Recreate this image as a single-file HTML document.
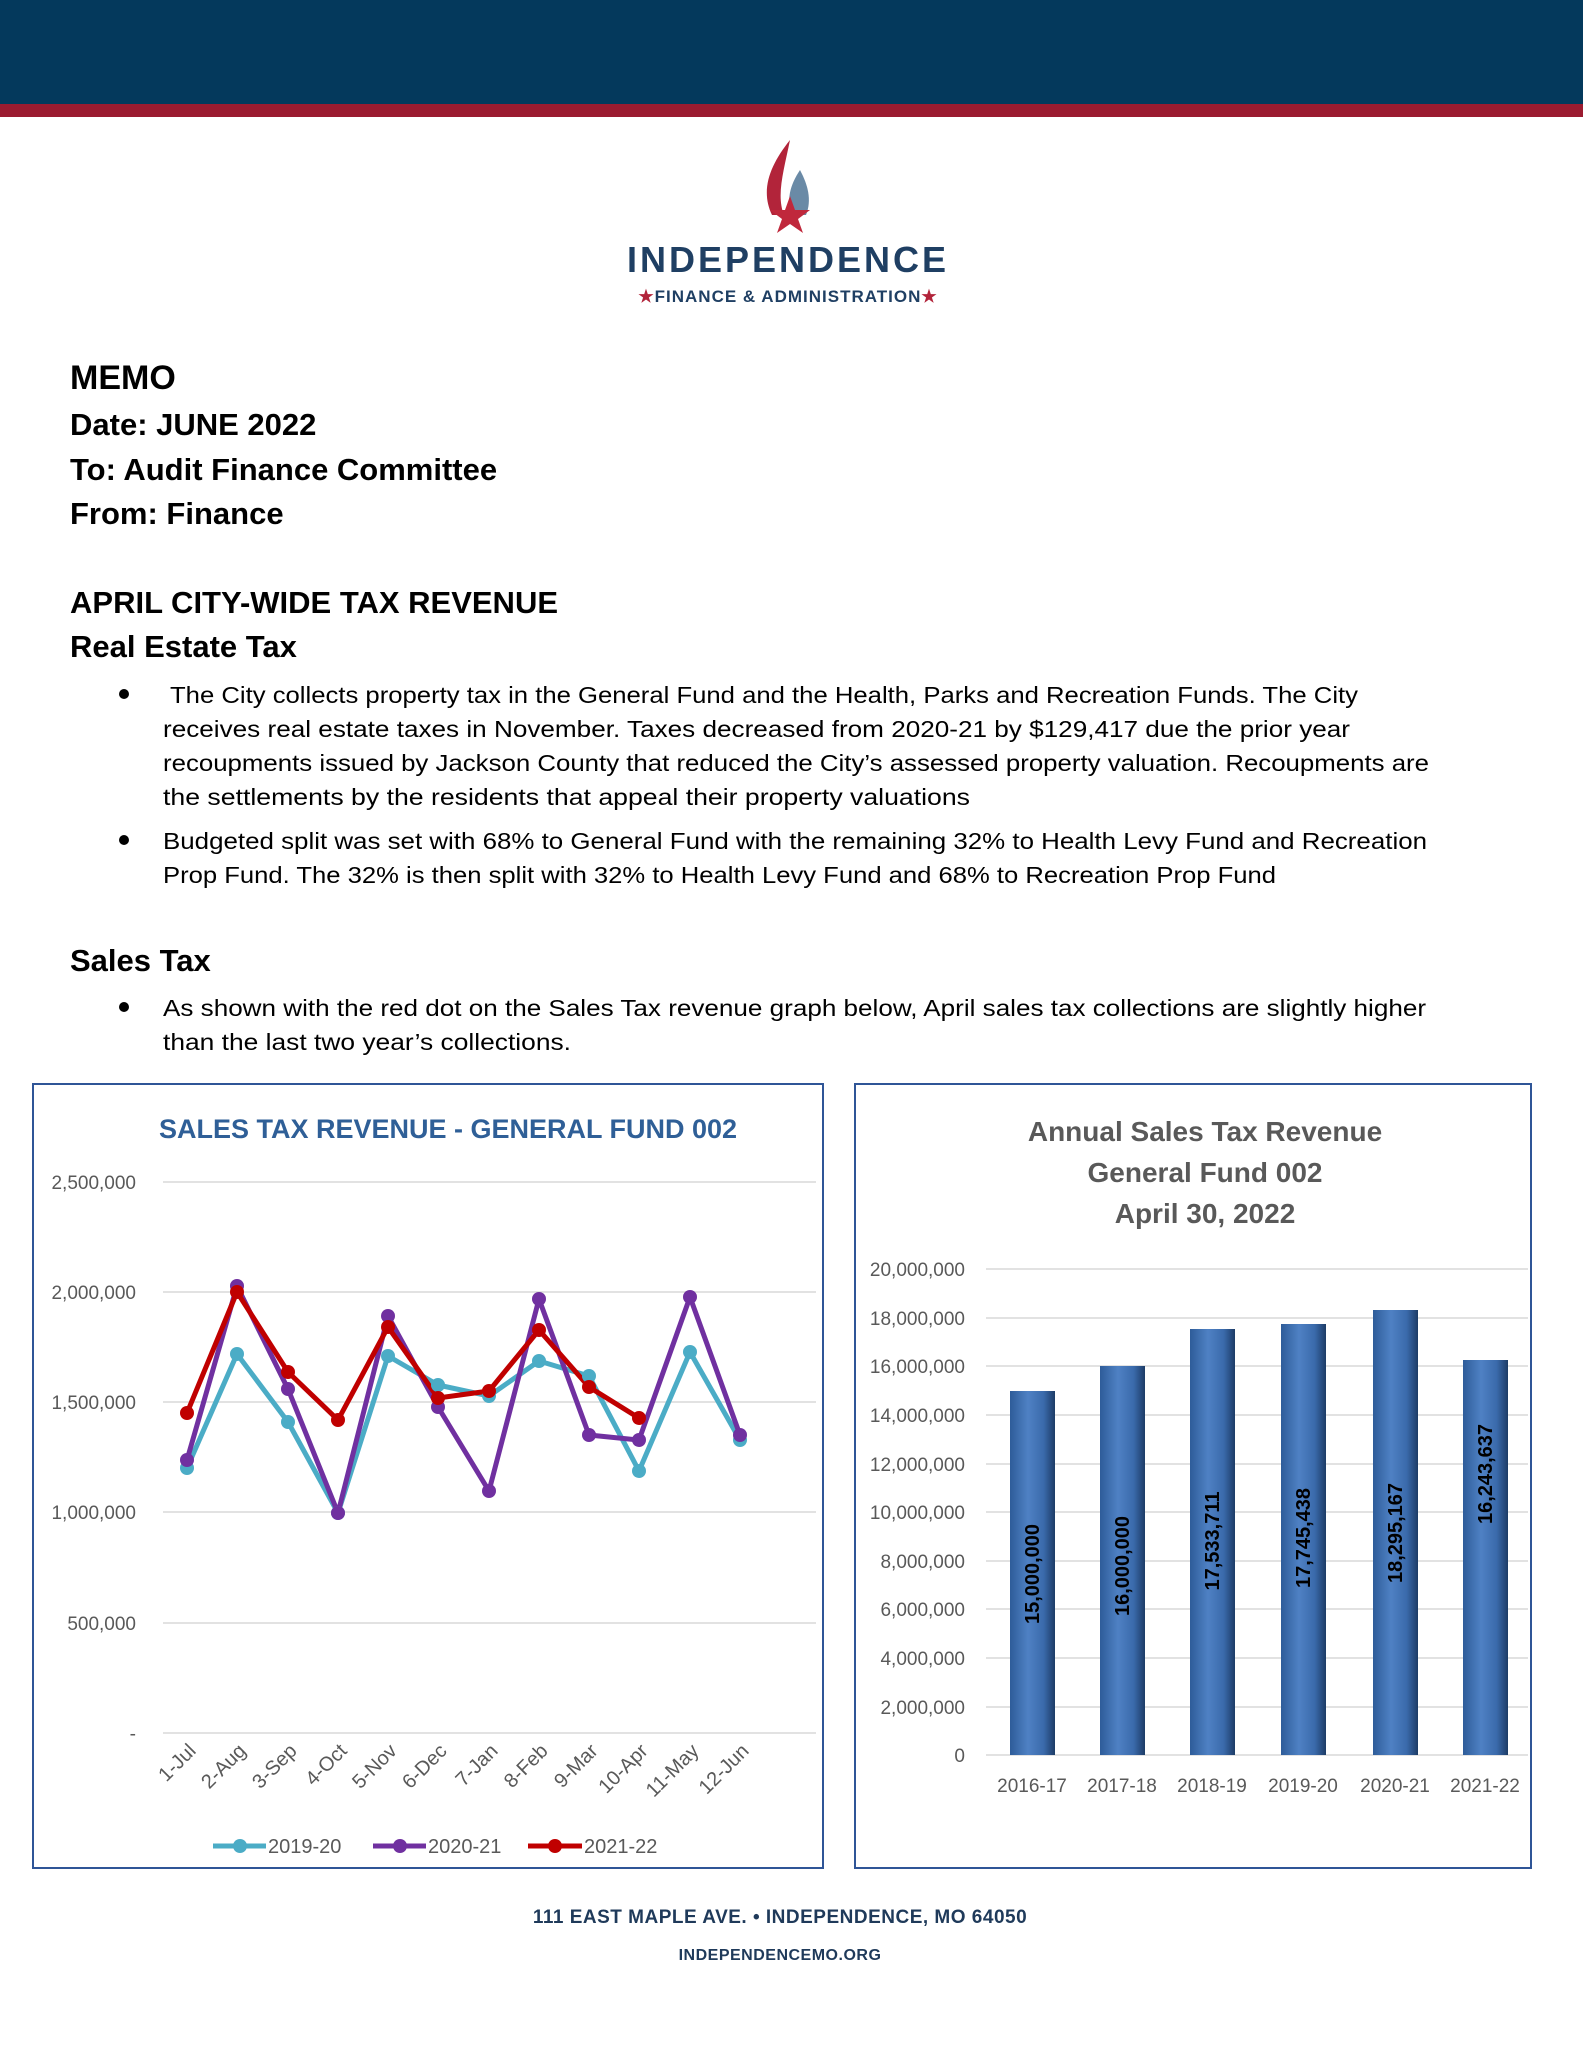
<!DOCTYPE html>
<html><head><meta charset="utf-8"><style>html,body{margin:0;padding:0;background:#fff}svg{display:block}</style></head>
<body>
<svg width="1583" height="2048" viewBox="0 0 1583 2048" xmlns="http://www.w3.org/2000/svg" font-family="Liberation Sans, sans-serif">
<rect x="0" y="0" width="1583" height="105" fill="#04395c"/>
<rect x="0" y="104" width="1583" height="13" fill="#9b1b30"/>
<!-- logo -->
<path d="M790 140 C770 165 760 190 772 215 L784 215 C776 195 784 170 790 140Z" fill="#b2243a"/>
<path d="M800 170 C790 185 786 200 792 215 L806 215 C812 200 808 185 800 170Z" fill="#6a8aa6"/>
<polygon points="790,196 795,210 810,210 798,219 803,233 790,224 777,233 782,219 770,210 785,210" fill="#c0283c"/>
<text x="788" y="272" font-size="36" font-weight="bold" fill="#1f3f63" text-anchor="middle" letter-spacing="3">INDEPENDENCE</text>
<text x="788" y="302" font-size="17" font-weight="bold" fill="#1f3f63" text-anchor="middle" letter-spacing="1"><tspan fill="#b2243a">★</tspan>FINANCE &amp; ADMINISTRATION<tspan fill="#b2243a">★</tspan></text>
<!-- memo -->
<g font-weight="bold" fill="#000" font-size="31">
<text x="70" y="389" font-size="34">MEMO</text>
<text x="70" y="435">Date: JUNE 2022</text>
<text x="70" y="480">To: Audit Finance Committee</text>
<text x="70" y="524">From: Finance</text>
<text x="70" y="613">APRIL CITY-WIDE TAX REVENUE</text>
<text x="70" y="657">Real Estate Tax</text>
<text x="70" y="971">Sales Tax</text>
</g>
<g font-size="23" fill="#000" lengthAdjust="spacingAndGlyphs">
<circle cx="124" cy="694" r="5"/><circle cx="124" cy="840" r="5"/><circle cx="124" cy="1007" r="5"/>
<text x="170" y="703" textLength="1188" lengthAdjust="spacingAndGlyphs">The City collects property tax in the General Fund and the Health, Parks and Recreation Funds. The City</text>
<text x="163" y="737" textLength="1187" lengthAdjust="spacingAndGlyphs">receives real estate taxes in November.  Taxes decreased from 2020-21 by $129,417 due the prior year</text>
<text x="163" y="771" textLength="1266" lengthAdjust="spacingAndGlyphs">recoupments issued by Jackson County that reduced the City’s assessed property valuation. Recoupments are</text>
<text x="163" y="805" textLength="807" lengthAdjust="spacingAndGlyphs">the settlements by the residents that appeal their property valuations</text>
<text x="163" y="849" textLength="1264" lengthAdjust="spacingAndGlyphs">Budgeted split was set with 68% to General Fund with the remaining 32% to Health Levy Fund and Recreation</text>
<text x="163" y="883" textLength="1113" lengthAdjust="spacingAndGlyphs">Prop Fund. The 32% is then split with 32% to Health Levy Fund and 68% to Recreation Prop Fund</text>
<text x="163" y="1016" textLength="1263" lengthAdjust="spacingAndGlyphs">As shown with the red dot on the Sales Tax revenue graph below, April sales tax collections are slightly higher</text>
<text x="163" y="1050" textLength="408" lengthAdjust="spacingAndGlyphs">than the last two year’s collections.</text>
</g>
<!-- chart 1 -->
<rect x="33" y="1084" width="790" height="784" fill="#fff" stroke="#2f5597" stroke-width="2"/>
<text x="448" y="1138" font-size="27" font-weight="bold" fill="#2f5f97" text-anchor="middle">SALES TAX REVENUE - GENERAL FUND 002</text>
<g stroke="#d9d9d9" stroke-width="1.5">
<line x1="163" x2="816" y1="1182" y2="1182"/><line x1="163" x2="816" y1="1292" y2="1292"/><line x1="163" x2="816" y1="1402" y2="1402"/><line x1="163" x2="816" y1="1512" y2="1512"/><line x1="163" x2="816" y1="1623" y2="1623"/><line x1="163" x2="816" y1="1733" y2="1733"/>
</g>
<g font-size="19" fill="#595959" text-anchor="end">
<text x="136" y="1189">2,500,000</text><text x="136" y="1299">2,000,000</text><text x="136" y="1409">1,500,000</text><text x="136" y="1519">1,000,000</text><text x="136" y="1630">500,000</text><text x="136" y="1740">-</text>
</g>
<g font-size="20" fill="#595959" text-anchor="end">
<text transform="translate(197,1752) rotate(-45)">1-Jul</text>
<text transform="translate(247,1752) rotate(-45)">2-Aug</text>
<text transform="translate(298,1752) rotate(-45)">3-Sep</text>
<text transform="translate(348,1752) rotate(-45)">4-Oct</text>
<text transform="translate(398,1752) rotate(-45)">5-Nov</text>
<text transform="translate(448,1752) rotate(-45)">6-Dec</text>
<text transform="translate(499,1752) rotate(-45)">7-Jan</text>
<text transform="translate(549,1752) rotate(-45)">8-Feb</text>
<text transform="translate(599,1752) rotate(-45)">9-Mar</text>
<text transform="translate(649,1752) rotate(-45)">10-Apr</text>
<text transform="translate(700,1752) rotate(-45)">11-May</text>
<text transform="translate(750,1752) rotate(-45)">12-Jun</text>
</g>
<g fill="none" stroke-width="5" stroke-linejoin="round">
<polyline stroke="#4bacc6" points="187,1468 237,1354 288,1422 338,1513 388,1356 438,1385 489,1396 539,1361 589,1376 639,1471 690,1352 740,1440"/>
<polyline stroke="#7030a0" points="187,1460 237,1286 288,1389 338,1513 388,1316 438,1407 489,1491 539,1299 589,1435 639,1440 690,1297 740,1435"/>
<polyline stroke="#c00000" points="187,1413 237,1292 288,1372 338,1420 388,1327 438,1398 489,1391 539,1330 589,1387 639,1418"/>
</g>
<g fill="#4bacc6"><circle cx="187" cy="1468" r="7"/><circle cx="237" cy="1354" r="7"/><circle cx="288" cy="1422" r="7"/><circle cx="338" cy="1513" r="7"/><circle cx="388" cy="1356" r="7"/><circle cx="438" cy="1385" r="7"/><circle cx="489" cy="1396" r="7"/><circle cx="539" cy="1361" r="7"/><circle cx="589" cy="1376" r="7"/><circle cx="639" cy="1471" r="7"/><circle cx="690" cy="1352" r="7"/><circle cx="740" cy="1440" r="7"/></g>
<g fill="#7030a0"><circle cx="187" cy="1460" r="7"/><circle cx="237" cy="1286" r="7"/><circle cx="288" cy="1389" r="7"/><circle cx="338" cy="1513" r="7"/><circle cx="388" cy="1316" r="7"/><circle cx="438" cy="1407" r="7"/><circle cx="489" cy="1491" r="7"/><circle cx="539" cy="1299" r="7"/><circle cx="589" cy="1435" r="7"/><circle cx="639" cy="1440" r="7"/><circle cx="690" cy="1297" r="7"/><circle cx="740" cy="1435" r="7"/></g>
<g fill="#c00000"><circle cx="187" cy="1413" r="7"/><circle cx="237" cy="1292" r="7"/><circle cx="288" cy="1372" r="7"/><circle cx="338" cy="1420" r="7"/><circle cx="388" cy="1327" r="7"/><circle cx="438" cy="1398" r="7"/><circle cx="489" cy="1391" r="7"/><circle cx="539" cy="1330" r="7"/><circle cx="589" cy="1387" r="7"/><circle cx="639" cy="1418" r="7"/></g>
<g font-size="20" fill="#595959">
<line x1="213" x2="266" y1="1846" y2="1846" stroke="#4bacc6" stroke-width="5"/><circle cx="240" cy="1846" r="7" fill="#4bacc6"/><text x="268" y="1853">2019-20</text>
<line x1="373" x2="426" y1="1846" y2="1846" stroke="#7030a0" stroke-width="5"/><circle cx="400" cy="1846" r="7" fill="#7030a0"/><text x="428" y="1853">2020-21</text>
<line x1="528" x2="582" y1="1846" y2="1846" stroke="#c00000" stroke-width="5"/><circle cx="555" cy="1846" r="7" fill="#c00000"/><text x="584" y="1853">2021-22</text>
</g>
<!-- chart 2 -->
<defs><linearGradient id="bg" x1="0" x2="1" y1="0" y2="0"><stop offset="0" stop-color="#2e5c99"/><stop offset="0.4" stop-color="#4f81c4"/><stop offset="0.75" stop-color="#3a6aab"/><stop offset="1" stop-color="#1d3c66"/></linearGradient></defs>
<rect x="855" y="1084" width="676" height="784" fill="#fff" stroke="#2f5597" stroke-width="2"/>
<g font-size="28" font-weight="bold" fill="#595959" text-anchor="middle">
<text x="1205" y="1141">Annual Sales Tax Revenue</text><text x="1205" y="1182">General Fund 002</text><text x="1205" y="1223">April 30, 2022</text>
</g>
<g stroke="#d9d9d9" stroke-width="1.5">
<line x1="986" x2="1528" y1="1269" y2="1269"/><line x1="986" x2="1528" y1="1318" y2="1318"/><line x1="986" x2="1528" y1="1366" y2="1366"/><line x1="986" x2="1528" y1="1415" y2="1415"/><line x1="986" x2="1528" y1="1464" y2="1464"/><line x1="986" x2="1528" y1="1512" y2="1512"/><line x1="986" x2="1528" y1="1561" y2="1561"/><line x1="986" x2="1528" y1="1609" y2="1609"/><line x1="986" x2="1528" y1="1658" y2="1658"/><line x1="986" x2="1528" y1="1707" y2="1707"/><line x1="986" x2="1528" y1="1755" y2="1755"/>
</g>
<g font-size="19" fill="#595959" text-anchor="end">
<text x="965" y="1276">20,000,000</text><text x="965" y="1325">18,000,000</text><text x="965" y="1373">16,000,000</text><text x="965" y="1422">14,000,000</text><text x="965" y="1471">12,000,000</text><text x="965" y="1519">10,000,000</text><text x="965" y="1568">8,000,000</text><text x="965" y="1616">6,000,000</text><text x="965" y="1665">4,000,000</text><text x="965" y="1714">2,000,000</text><text x="965" y="1762">0</text>
</g>
<g fill="url(#bg)">
<rect x="1010" y="1391" width="45" height="364"/><rect x="1100" y="1366" width="45" height="389"/><rect x="1190" y="1329" width="45" height="426"/><rect x="1281" y="1324" width="45" height="431"/><rect x="1373" y="1310" width="45" height="445"/><rect x="1463" y="1360" width="45" height="395"/>
</g>
<g font-size="20" font-weight="bold" fill="#000" text-anchor="middle">
<text transform="translate(1039,1574) rotate(-90)">15,000,000</text>
<text transform="translate(1129,1566) rotate(-90)">16,000,000</text>
<text transform="translate(1219,1541) rotate(-90)">17,533,711</text>
<text transform="translate(1310,1538) rotate(-90)">17,745,438</text>
<text transform="translate(1402,1533) rotate(-90)">18,295,167</text>
<text transform="translate(1492,1474) rotate(-90)">16,243,637</text>
</g>
<g font-size="19" fill="#595959" text-anchor="middle">
<text x="1032" y="1792">2016-17</text><text x="1122" y="1792">2017-18</text><text x="1212" y="1792">2018-19</text><text x="1303" y="1792">2019-20</text><text x="1395" y="1792">2020-21</text><text x="1485" y="1792">2021-22</text>
</g>
<!-- footer -->
<text x="780" y="1923" font-size="19" font-weight="bold" fill="#1f3a5a" text-anchor="middle" letter-spacing="0.5">111 EAST MAPLE AVE. • INDEPENDENCE, MO 64050</text>
<text x="780" y="1960" font-size="16" font-weight="bold" fill="#1f3a5a" text-anchor="middle" letter-spacing="0.5">INDEPENDENCEMO.ORG</text>
</svg>
</body></html>
